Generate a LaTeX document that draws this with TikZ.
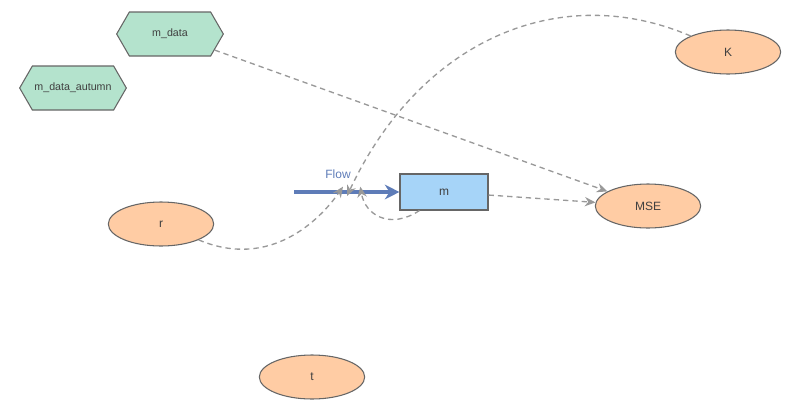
\documentclass[tikz,border=0pt]{standalone}
\usepackage{fontspec}
\setmainfont{Liberation Sans}
\usetikzlibrary{shapes.geometric, shapes.symbols, positioning, arrows.meta}

\begin{document}
\begin{tikzpicture}[x=0.75pt, y=-0.75pt,
    every node/.style={font=\small, text=black!75},
    data/.style={signal, signal to=west and east, signal pointer angle=120, draw=black!60, thick, fill=datagreen, minimum width=80pt, minimum height=33pt, inner xsep=0pt, font=\footnotesize},
    param/.style={ellipse, draw=black!60, thick, fill=paramorange, minimum width=79pt, minimum height=33pt},
    stock/.style={rectangle, draw=black!60, thick, fill=stockblue, minimum width=66pt, minimum height=27pt},
    link/.style={draw=black!40, line width=1pt, dash pattern=on 4pt off 3pt, -{Stealth[length=8pt,width=7pt]}}]
    % Colors
    \definecolor{datagreen}{RGB}{180, 227, 205}
    \definecolor{paramorange}{RGB}{255, 204, 164}
    \definecolor{stockblue}{RGB}{166, 212, 248}
    \definecolor{flowblue}{RGB}{94, 124, 184}

    \useasboundingbox (0,0) rectangle (800,411);

    % Nodes
    \node[data] (mdata) at (170,34) {m\_data};
    \node[data] (mdataautumn) at (73,88) {m\_data\_autumn};
    \node[param] (K) at (728,52) {K};
    \node[param] (MSE) at (648,206) {MSE};
    \node[param] (r) at (161,224) {r};
    \node[param] (t) at (312,377) {t};
    \node[stock] (m) at (444,192) {m};

    % Flow
    \coordinate (src) at (294,192);
    \coordinate (fm) at (347,192);
    \draw[flowblue, line width=2.6pt, -{Stealth[length=11pt,width=11pt]}] (src) -- (m.west);
    \node[text=flowblue] (flowlabel) at (338,174) {Flow};

    % Links
    \draw[link] (m) -- (MSE);
    \draw[link] (mdata) -- (MSE);
    \draw[link] (r) .. controls (270,270) and (320,220) .. ([xshift=-3pt,yshift=4pt]fm);
    \draw[link] (K) .. controls (560,-20) and (420,40) .. ([yshift=-3pt]fm);
    \draw[link] (m.south west) ++(20,0) coordinate (mb) (mb) .. controls (390,230) and (365,215) .. ([xshift=10pt,yshift=4pt]fm);
\end{tikzpicture}
\end{document}
